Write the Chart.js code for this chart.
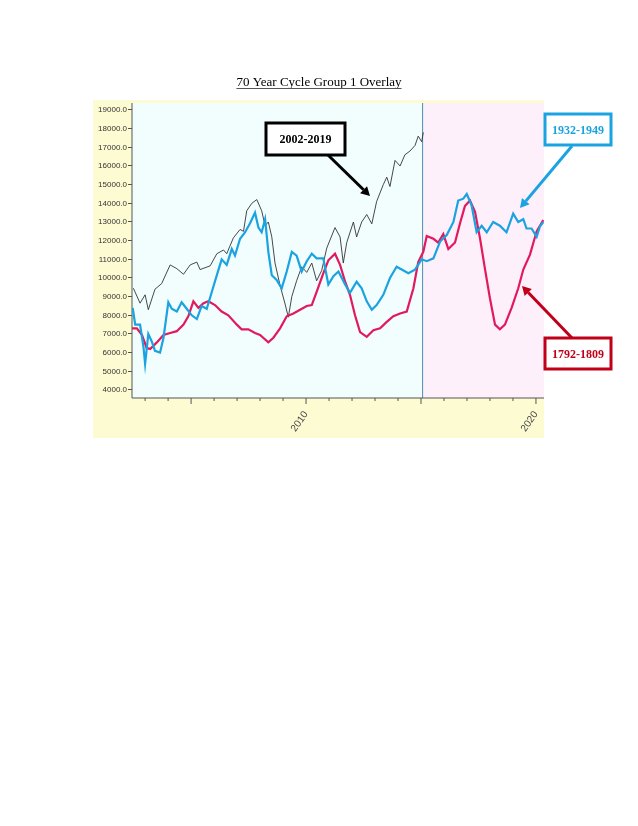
<!DOCTYPE html>
<html><head><meta charset="utf-8">
<script src="https://cdn.jsdelivr.net/npm/chart.js@4/dist/chart.umd.min.js"></script>
<style>html,body{margin:0;padding:0;background:#fff}#w{width:638px;height:826px;position:relative}</style>
</head><body><div id="w"><canvas id="c"></canvas></div>
<script>
const title = "70 Year Cycle Group 1 Overlay";
const yTicks = [4000,5000,6000,7000,8000,9000,10000,11000,12000,13000,14000,15000,16000,17000,18000,19000];
const xLabelYears = [2010, 2020];
const splitYear = 2015.07;

const blackX = [2002.49,2002.78,2003.00,2003.14,2003.43,2003.72,2004.09,2004.38,2004.67,2004.96,2005.25,2005.39,2005.83,2006.12,2006.41,2006.55,2006.84,2007.13,2007.28,2007.42,2007.64,2007.86,2008.07,2008.22,2008.36,2008.51,2008.65,2008.87,2009.09,2009.23,2009.38,2009.59,2009.81,2010.03,2010.25,2010.46,2010.68,2010.90,2011.26,2011.48,2011.62,2011.77,2012.06,2012.20,2012.42,2012.64,2012.86,2013.07,2013.36,2013.51,2013.65,2013.87,2014.09,2014.30,2014.52,2014.74,2014.88,2015.03,2015.10];
const blackY = [9450,8650,9100,8300,9400,9700,10700,10500,10200,10700,10850,10450,10650,11300,11500,11300,12150,12600,12500,13600,14000,14200,13600,12800,13000,12200,10800,9600,8600,7900,9000,9850,10600,10300,10800,9850,10400,11600,12700,12200,10800,11900,13000,12200,13000,13400,12900,14100,15000,15400,14900,16300,16000,16600,16800,17100,17600,17300,17800];

const blueX = [2002.46,2002.57,2002.78,2002.93,2003.00,2003.14,2003.29,2003.43,2003.65,2003.80,2004.01,2004.16,2004.38,2004.59,2004.81,2005.03,2005.25,2005.46,2005.68,2005.90,2006.12,2006.33,2006.55,2006.77,2006.91,2007.13,2007.35,2007.57,2007.78,2007.93,2008.07,2008.22,2008.36,2008.51,2008.72,2008.94,2009.16,2009.38,2009.59,2009.81,2010.03,2010.25,2010.46,2010.75,2010.97,2011.19,2011.41,2011.70,2011.91,2012.20,2012.42,2012.64,2012.86,2013.07,2013.36,2013.65,2013.94,2014.16,2014.45,2014.74,2015.03,2015.25,2015.54,2015.83,2016.12,2016.41,2016.62,2016.84,2016.99,2017.20,2017.42,2017.64,2017.86,2018.14,2018.43,2018.72,2019.01,2019.23,2019.45,2019.59,2019.81,2020.03,2020.17,2020.32];
const blueY = [8400,7500,7500,6300,5400,7000,6600,6100,6000,6800,8700,8350,8200,8700,8350,8000,7800,8500,8350,9250,10150,11000,10700,11550,11200,12100,12450,12950,13500,12700,12450,13150,11400,10150,9900,9450,10350,11400,11200,10350,10900,11300,11050,11050,9650,10100,10350,9650,9200,9800,9450,8750,8300,8550,9100,10000,10600,10450,10250,10450,11000,10900,11050,11950,12300,13000,14150,14250,14500,13900,12450,12800,12450,13000,12800,12450,13450,13000,13150,12650,12650,12200,12750,13000];

const redX = [2002.42,2002.64,2002.86,2003.07,2003.22,2003.51,2003.80,2004.09,2004.38,2004.67,2004.88,2005.10,2005.32,2005.54,2005.75,2006.04,2006.33,2006.62,2006.99,2007.20,2007.49,2007.78,2008.00,2008.36,2008.58,2008.87,2009.16,2009.45,2009.74,2010.03,2010.25,2010.46,2010.75,2010.97,2011.26,2011.48,2011.70,2011.91,2012.13,2012.35,2012.64,2012.93,2013.22,2013.51,2013.80,2014.09,2014.38,2014.67,2014.88,2015.10,2015.25,2015.54,2015.75,2015.97,2016.19,2016.48,2016.70,2016.91,2017.13,2017.35,2017.57,2017.78,2018.00,2018.22,2018.43,2018.65,2018.94,2019.23,2019.45,2019.74,2020.03,2020.32];
const redY = [7300,7300,6950,6250,6200,6550,6950,7050,7150,7500,7950,8750,8400,8650,8750,8550,8200,8000,7500,7250,7250,7050,6950,6550,6800,7300,7950,8100,8300,8500,8550,9250,10250,10950,11300,10700,9800,9100,8000,7100,6850,7200,7300,7650,7950,8100,8200,9450,10850,11400,12250,12100,11900,12350,11550,11900,12950,13850,14150,13550,12100,10500,8900,7500,7250,7500,8400,9450,10450,11250,12500,13100];

const pts = (xs, ys) => xs.map((x, i) => ({x, y: ys[i]}));

const deco = {
  id: 'deco',
  beforeDraw(ch) {
    const c = ch.ctx, a = ch.chartArea, xs = ch.scales.x;
    c.save();
    c.fillStyle = '#fff'; c.fillRect(0, 0, ch.width, ch.height);
    c.fillStyle = '#fdfbd2'; c.fillRect(93, 100, a.right - 93, 338);
    const sx = xs.getPixelForValue(splitYear);
    c.fillStyle = '#f2fdfd'; c.fillRect(a.left, a.top, sx - a.left, a.bottom - a.top);
    c.fillStyle = '#fdf0fb'; c.fillRect(sx, a.top, a.right - sx, a.bottom - a.top);
    c.strokeStyle = '#4a8fb0'; c.lineWidth = 1;
    c.beginPath(); c.moveTo(sx, a.top); c.lineTo(sx, a.bottom); c.stroke();
    c.strokeStyle = '#555';
    c.beginPath(); c.moveTo(a.left, a.top); c.lineTo(a.left, a.bottom); c.lineTo(a.right, a.bottom); c.stroke();
    // title
    c.fillStyle = '#000'; c.font = '13px "Liberation Serif"'; c.textAlign = 'center'; c.textBaseline = 'alphabetic';
    c.fillText(title, 319, 86);
    const tw = c.measureText(title).width;
    c.beginPath(); c.moveTo(319 - tw/2, 88.5); c.lineTo(319 + tw/2, 88.5); c.stroke();
    // x ticks
    c.strokeStyle = '#555';
    for (let y = 2003; y <= 2020; y++) {
      const px = xs.getPixelForValue(y), len = y % 5 === 0 ? 6 : 3;
      c.beginPath(); c.moveTo(px, a.bottom); c.lineTo(px, a.bottom + len); c.stroke();
    }
    c.restore();
  },
  afterDraw(ch) {
    const c = ch.ctx;
    function box(x, y, w, h, txt, col) {
      c.fillStyle = '#fff'; c.fillRect(x, y, w, h);
      c.strokeStyle = col; c.lineWidth = 3; c.strokeRect(x, y, w, h);
      c.fillStyle = col; c.font = 'bold 12px "Liberation Serif"'; c.textAlign = 'center'; c.textBaseline = 'middle';
      c.fillText(txt, x + w/2, y + h/2 + 1);
    }
    function arrow(x1, y1, x2, y2, col) {
      c.strokeStyle = col; c.fillStyle = col; c.lineWidth = 3;
      const ang = Math.atan2(y2 - y1, x2 - x1);
      const bx = x2 - 9*Math.cos(ang), by = y2 - 9*Math.sin(ang);
      c.beginPath(); c.moveTo(x1, y1); c.lineTo(bx, by); c.stroke();
      c.beginPath(); c.moveTo(x2, y2);
      c.lineTo(bx + 5*Math.sin(ang), by - 5*Math.cos(ang));
      c.lineTo(bx - 5*Math.sin(ang), by + 5*Math.cos(ang)); c.closePath(); c.fill();
    }
    c.save();
    arrow(328, 155, 370, 196, '#000');
    box(266, 123, 79, 32, '2002-2019', '#000');
    arrow(572, 146, 520, 208, '#1aa3e0');
    box(545, 114, 66, 31, '1932-1949', '#1aa3e0');
    arrow(572, 338, 522, 286, '#c00018');
    box(545, 338, 66, 31, '1792-1809', '#c00018');
    c.restore();
  }
};

new Chart(document.getElementById('c'), {
  type: 'line',
  data: { datasets: [
    { data: pts(blueX, blueY), borderColor: '#1aa3e0', borderWidth: 2.2, pointRadius: 0, tension: 0 },
    { data: pts(redX, redY), borderColor: '#e2195c', borderWidth: 2.2, pointRadius: 0, tension: 0 },
    { data: pts(blackX, blackY), borderColor: '#333', borderWidth: 0.9, pointRadius: 0, tension: 0 }
  ]},
  options: {
    responsive: true, maintainAspectRatio: false, animation: false,
    layout: { padding: { left: 93, top: 103, right: 94, bottom: 388 } },
    plugins: { legend: { display: false }, tooltip: { enabled: false } },
    scales: {
      x: { type: 'linear', min: 2002.43, max: 2020.35,
        afterFit: s => { s.height = 40; },
        afterBuildTicks: s => { s.ticks = xLabelYears.map(v => ({value: v})); },
        grid: { display: false }, border: { display: false },
        ticks: { autoSkip: false, minRotation: 55, maxRotation: 55, color: '#444', font: { size: 10, family: 'Liberation Sans' }, callback: v => String(v) } },
      y: { min: 3570, max: 19375,
        afterFit: s => { s.width = 39; },
        afterBuildTicks: s => { s.ticks = yTicks.map(v => ({value: v})); },
        grid: { drawOnChartArea: false, tickLength: 4, color: '#555' }, border: { display: false },
        ticks: { color: '#333', padding: 1, font: { size: 8, family: 'Liberation Sans' }, callback: v => v.toFixed(1) } }
    }
  },
  plugins: [deco]
});
</script></body></html>
